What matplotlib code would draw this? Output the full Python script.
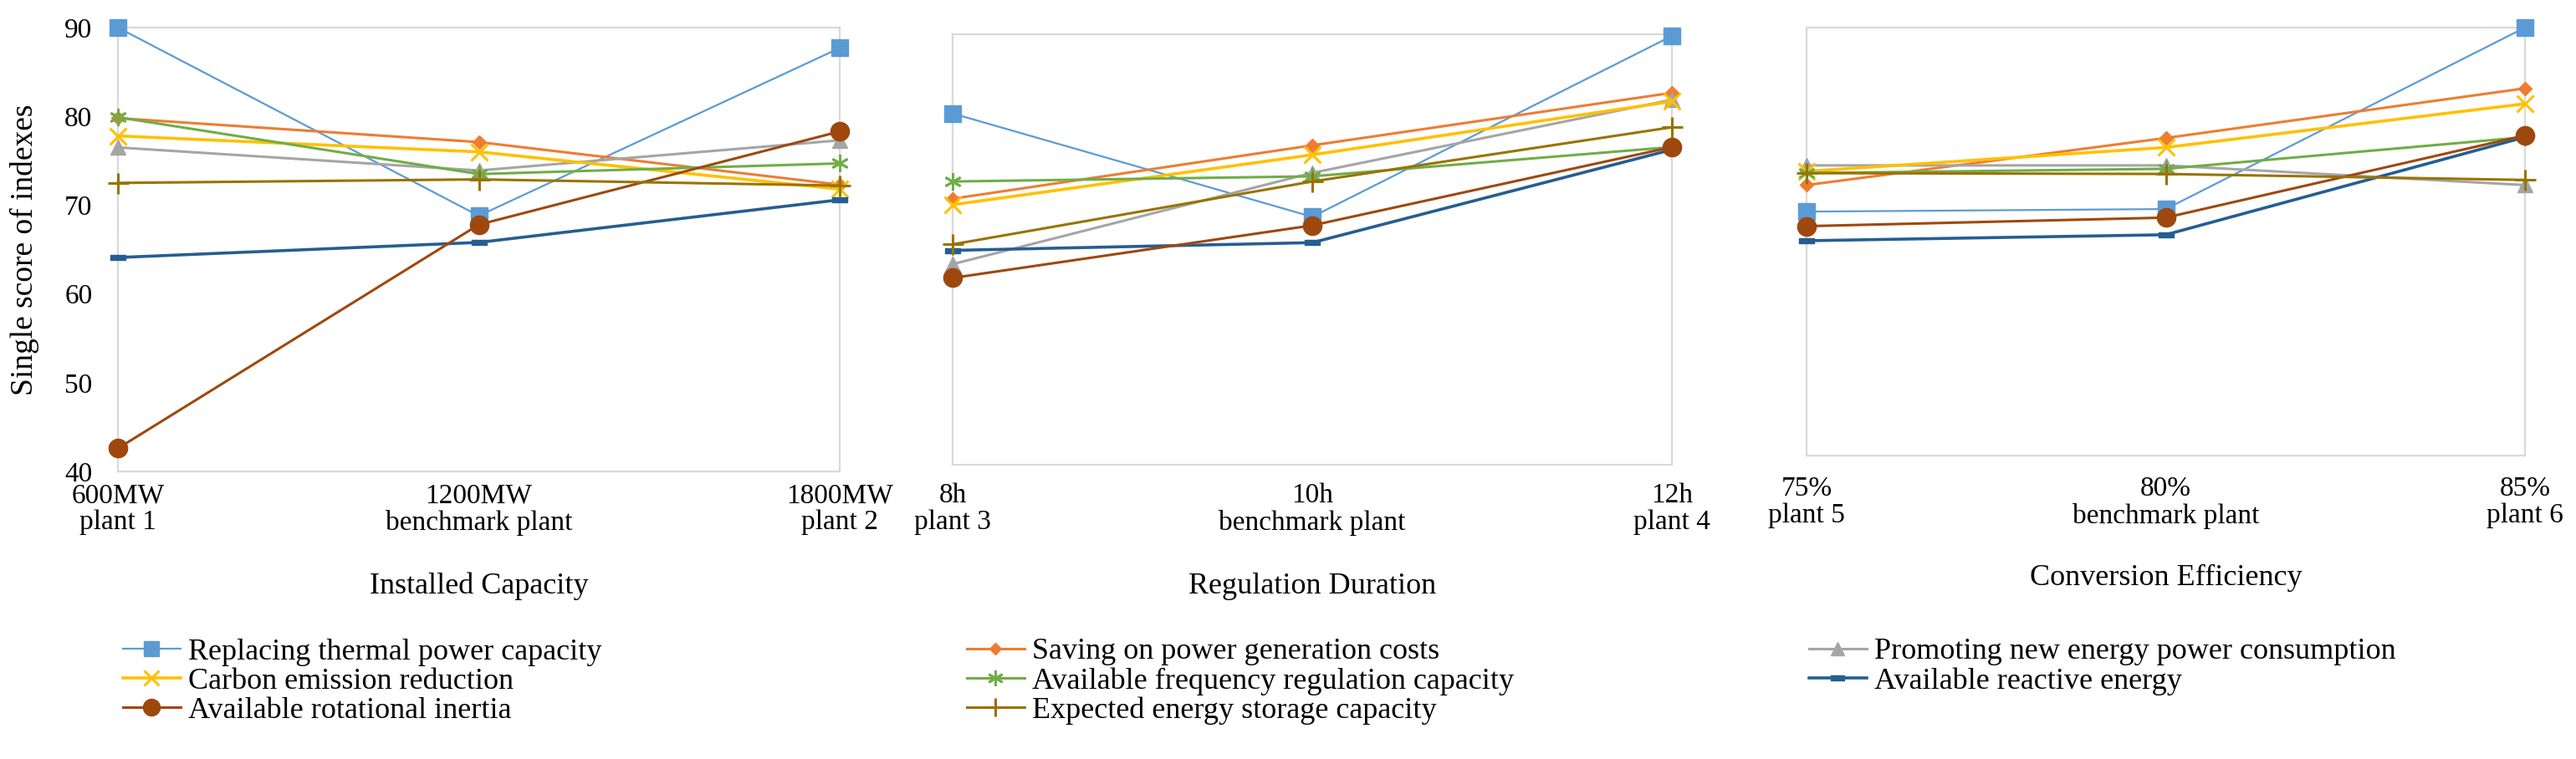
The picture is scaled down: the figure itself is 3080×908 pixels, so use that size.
import numpy as np
import matplotlib
matplotlib.use('Agg')
import matplotlib.pyplot as plt
from matplotlib.path import Path
from matplotlib.lines import Line2D

plt.rcParams['font.family'] = ['Liberation Serif', 'DejaVu Serif']

series_names = ['Replacing thermal power capacity',
                'Saving on power generation costs',
                'Promoting new energy power consumption',
                'Carbon emission reduction',
                'Available frequency regulation capacity',
                'Available reactive energy',
                'Available rotational inertia',
                'Expected energy storage capacity']

cap_labels = ['600MW\nplant 1', '1200MW\nbenchmark plant', '1800MW\nplant 2']
dur_labels = ['8h\nplant 3', '10h\nbenchmark plant', '12h\nplant 4']
eff_labels = ['75%\nplant 5', '80%\nbenchmark plant', '85%\nplant 6']
panel_titles = ['Installed Capacity', 'Regulation Duration', 'Conversion Efficiency']

# one row per series (same order as series_names)
cap_scores = [[90.0, 68.8, 87.7],
              [79.8, 77.1, 72.3],
              [76.5, 73.9, 77.3],
              [77.8, 76.0, 71.8],
              [79.9, 73.5, 74.7],
              [64.1, 65.8, 70.6],
              [42.6, 67.8, 78.3],
              [72.5, 72.9, 72.2]]

dur_scores = [[80.8, 68.8, 89.8],
              [70.9, 77.1, 83.2],
              [63.3, 73.9, 82.4],
              [70.2, 76.0, 82.2],
              [72.9, 73.5, 76.9],
              [64.9, 65.8, 76.6],
              [61.7, 67.8, 76.9],
              [65.6, 72.9, 79.2]]

eff_scores = [[68.5, 68.8, 90.0],
              [71.6, 77.1, 82.9],
              [73.9, 73.9, 71.6],
              [73.2, 76.0, 81.1],
              [73.0, 73.5, 77.2],
              [65.1, 65.8, 77.2],
              [66.8, 67.8, 77.4],
              [73.0, 72.9, 72.2]]

yticks = [40, 50, 60, 70, 80, 90]

# styles
dash = Path([(-1, -0.32), (1, -0.32), (1, 0.32), (-1, 0.32), (-1, -0.32)],
            [Path.MOVETO, Path.LINETO, Path.LINETO, Path.LINETO, Path.CLOSEPOLY])
colors = ['#5B9BD5', '#ED7D31', '#A5A5A5', '#FFC000', '#70AD47', '#255E91', '#9E480E', '#997300']
markers = ['s', 'D', '^', 'x', (6, 2, 0), dash, 'o', '+']
msizes = [14, 8, 13, 14, 15, 13, 16, 18]
lws = [1.6, 2.2, 2.2, 2.6, 2.2, 2.6, 2.2, 2.2]
mews = [1, 1, 1, 2.2, 2, 1, 1, 2.2]

W, H = 3080, 908
fig = plt.figure(figsize=(W / 100, H / 100), dpi=100)

# axes boxes in pixels: left, right, top, bottom
boxes = [(141, 1004, 33, 564), (1139, 1999, 41, 556), (2160, 3019, 33, 545)]
label_top = [578, 578, 570]
title_y = [701, 701, 691]
all_labels = [cap_labels, dur_labels, eff_labels]
all_scores = [cap_scores, dur_scores, eff_scores]

axes = []
for k in range(3):
    l, r, t, b = boxes[k]
    ax = fig.add_axes([l / W, 1 - b / H, (r - l) / W, (b - t) / H])
    x = np.arange(3)
    for i in range(8):
        ax.plot(x, all_scores[k][i], color=colors[i], lw=lws[i], marker=markers[i],
                ms=msizes[i], mew=mews[i], mfc=colors[i], mec=colors[i],
                clip_on=False, label=series_names[i], zorder=3 + i)
    ax.set_xlim(0, 2)
    ax.set_ylim(40, 90)
    ax.set_xticks(x)
    ax.set_xticklabels(all_labels[k], fontsize=24, linespacing=1.05)
    ax.set_yticks(yticks)
    pad = (label_top[k] - b) / 1.389
    ax.tick_params(axis='x', length=0, pad=pad)
    ax.tick_params(axis='y', length=0, pad=22, labelsize=24)
    if k > 0:
        ax.set_yticklabels([])
    for s in ax.spines.values():
        s.set_color('#D9D9D9')
        s.set_linewidth(1.6)
    fig.text((l + r) / 2 / W, 1 - title_y[k] / H, panel_titles[k], fontsize=26,
             ha='center', va='center')
    axes.append(ax)

axes[0].set_ylabel('Single score of indexes', fontsize=27)
axes[0].yaxis.set_label_coords(-0.109, 0.5)

# legend: three columns placed by hand, row-wise order like the original
handles = [Line2D([], [], color=colors[i], lw=lws[i], marker=markers[i],
                  ms=msizes[i] * 0.9, mew=mews[i], mfc=colors[i], mec=colors[i])
           for i in range(8)]
cols = [[0, 3, 6], [1, 4, 7], [2, 5]]
col_x = [147, 1156, 2163]
row_y = [780, 815, 850]
for c in range(3):
    idx = cols[c]
    yc = np.mean(row_y[:len(idx)])
    fig.legend([handles[i] for i in idx], [series_names[i] for i in idx],
               loc='center left', bbox_to_anchor=(col_x[c] / W, 1 - yc / H),
               frameon=False, fontsize=26, handlelength=1.9, handletextpad=0.25,
               labelspacing=0.05, borderpad=0, borderaxespad=0)

fig.savefig('out.png', dpi=100)
